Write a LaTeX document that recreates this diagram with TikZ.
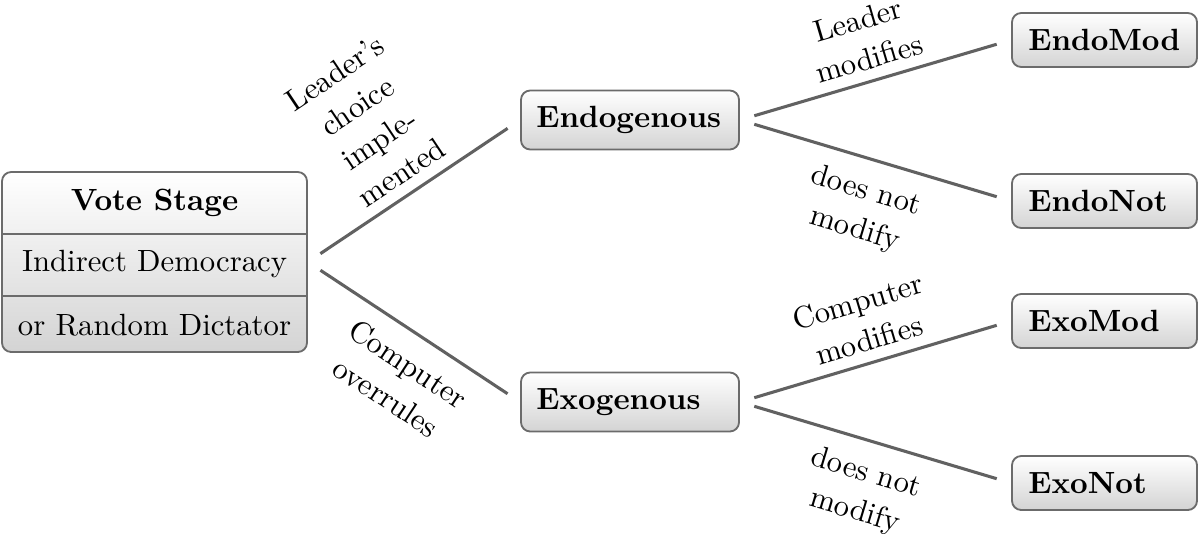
\documentclass[tikz,border=0pt]{standalone}
\newlength\px
\setlength\px{0.3257pt}
\tikzset{
  box/.style={draw=black!58, line width=0.6pt, rounded corners=3pt, top color=white, bottom color=black!17},
  votebox/.style={box, minimum width=305\px, minimum height=180\px, inner sep=0pt},
  midbox/.style={box, minimum width=218\px, minimum height=59\px, text width=61pt, inner xsep=5pt, inner ysep=0pt, align=left, font=\bfseries},
  leafbox/.style={box, minimum width=185\px, minimum height=54\px, text width=49.6pt, inner xsep=5.3pt, inner ysep=0pt, align=left, font=\bfseries},
  conn/.style={draw=black!62, line width=1pt, shorten <=15\px, shorten >=15\px},
  lbl/.style={sloped, align=center},
  divider/.style={draw=black!58, line width=0.6pt},
}
\begin{document}
\begin{tikzpicture}[x=1\px, y=-1\px]
\useasboundingbox (0,0) rectangle (1200,533);
% vote stage box
\node[votebox] (vote) at (154.5,262) {};
\coordinate (d1) at (0,234);
\coordinate (d2) at (0,296);
\draw[divider] (vote.west |- d1) -- (vote.east |- d1);
\draw[divider] (vote.west |- d2) -- (vote.east |- d2);
\node[font=\bfseries] (vs) at (154.5,203) {Vote Stage};
\node (vid) at (154.5,264) {Indirect Democracy};
\node (vrd) at (154.5,325) {or Random Dictator};
% middle nodes
\node[midbox] (endo) at (630,120) {Endogenous};
\node[midbox] (exo) at (630,402) {Exogenous};
% leaves
\node[leafbox] (endomod) at (1104.5,40) {EndoMod};
\node[leafbox] (endonot) at (1104.5,201) {EndoNot};
\node[leafbox] (exomod) at (1104.5,321) {ExoMod};
\node[leafbox] (exonot) at (1104.5,483) {ExoNot};
% connectors
\draw[conn] (vote.east) -- node[lbl, above] {Leader's\\[1pt]choice\\[1pt]imple-\\[1pt]mented} (endo.west);
\draw[conn] (vote.east) -- node[lbl, below=2.3pt, pos=0.55] {Computer\\[1pt]overrules} (exo.west);
\draw[conn] (endo.east) -- node[lbl, above] {Leader\\[1pt]modifies} (endomod.west);
\draw[conn] (endo.east) -- node[lbl, below=2.3pt] {does not\\[1pt]modify} (endonot.west);
\draw[conn] (exo.east) -- node[lbl, above] {Computer\\[1pt]modifies} (exomod.west);
\draw[conn] (exo.east) -- node[lbl, below=2.3pt] {does not\\[1pt]modify} (exonot.west);
\end{tikzpicture}
\end{document}
